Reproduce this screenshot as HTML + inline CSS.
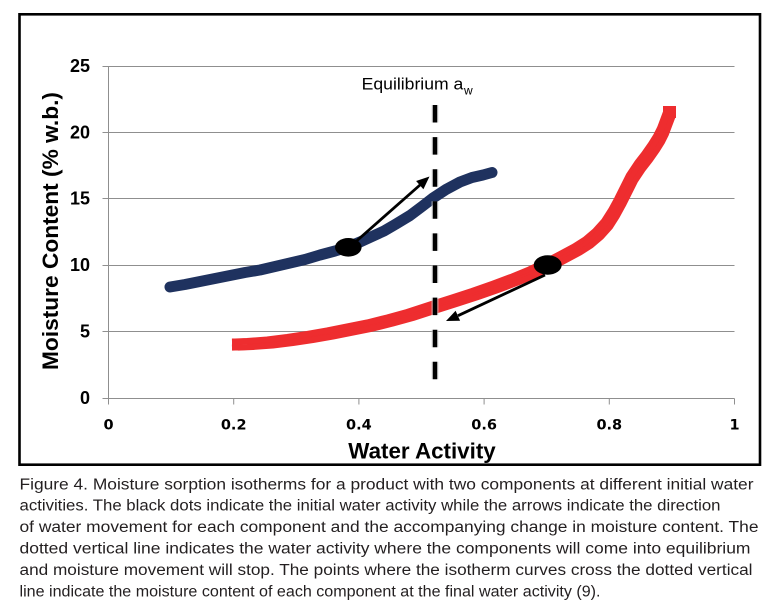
<!DOCTYPE html>
<html>
<head>
<meta charset="utf-8">
<style>
html,body{margin:0;padding:0;background:#fff;overflow:hidden;}
svg{display:block;}
</style>
</head>
<body>
<svg width="782" height="608" viewBox="0 0 782 608" xmlns="http://www.w3.org/2000/svg">
<rect width="782" height="608" fill="#fff"/>
<!-- outer frame -->
<rect x="19.5" y="14.3" width="740.5" height="450.4" fill="none" stroke="#000" stroke-width="2.6"/>

<!-- gridlines -->
<g stroke="#8f8f8f" stroke-width="1" fill="none">
  <line x1="102.5" y1="66.5" x2="734.5" y2="66.5"/>
  <line x1="102.5" y1="132.5" x2="734.5" y2="132.5"/>
  <line x1="102.5" y1="198.5" x2="734.5" y2="198.5"/>
  <line x1="102.5" y1="265.5" x2="734.5" y2="265.5"/>
  <line x1="102.5" y1="331.5" x2="734.5" y2="331.5"/>
  <line x1="102.5" y1="398.5" x2="734.5" y2="398.5"/>
  <line x1="108.5" y1="66.5" x2="108.5" y2="398.5"/>
  <line x1="108.5" y1="398.5" x2="108.5" y2="404.5"/>
  <line x1="233.7" y1="398.5" x2="233.7" y2="404.5"/>
  <line x1="358.9" y1="398.5" x2="358.9" y2="404.5"/>
  <line x1="484.1" y1="398.5" x2="484.1" y2="404.5"/>
  <line x1="609.3" y1="398.5" x2="609.3" y2="404.5"/>
  <line x1="734.5" y1="398.5" x2="734.5" y2="404.5"/>
</g>

<!-- y tick labels -->
<g font-family="'Liberation Sans', Arial, sans-serif" font-weight="bold" font-size="18" fill="#000" text-anchor="end">
  <text x="90" y="72">25</text>
  <text x="90" y="138.3">20</text>
  <text x="90" y="204.7">15</text>
  <text x="90" y="271.2">10</text>
  <text x="90" y="337.6">5</text>
  <text x="90" y="404">0</text>
</g>

<!-- x tick labels -->
<g font-family="'DejaVu Sans', Verdana, sans-serif" font-weight="bold" font-size="14.5" fill="#000" text-anchor="middle">
  <text x="108.5" y="429.5">0</text>
  <text x="233.7" y="429.5">0.2</text>
  <text x="358.9" y="429.5">0.4</text>
  <text x="484.1" y="429.5">0.6</text>
  <text x="609.3" y="429.5">0.8</text>
  <text x="734.5" y="429.5">1</text>
</g>

<!-- axis titles -->
<text x="422" y="458.3" font-family="'Liberation Sans', Arial, sans-serif" font-weight="bold" font-size="22.5" text-anchor="middle" textLength="147.4" lengthAdjust="spacingAndGlyphs">Water Activity</text>
<text transform="translate(58,231) rotate(-90)" x="0" y="0" font-family="'Liberation Sans', Arial, sans-serif" font-weight="bold" font-size="22" text-anchor="middle" textLength="278" lengthAdjust="spacingAndGlyphs">Moisture Content (% w.b.)</text>

<!-- blue series -->
<polyline fill="none" stroke="#1F325F" stroke-width="11" stroke-linejoin="round" stroke-linecap="round"
 points="170,287 185,284.5 200,281.5 215,278.5 230,275.5 245,272.5 260,270 275,266.5 290,263 305,259.5 320,255 335,251 348,247 360,242 372,236.5 384,231 396,224 410,215.5 422,206.5 433,198 446,189.5 460,182 472,177.5 483,175 492,172.5"/>

<!-- red series (square markers approximated) -->
<g fill="none" stroke="#EE2D2F" stroke-width="6" stroke-linejoin="round" stroke-linecap="square">
  <polyline transform="translate(-3,-3)" points="238,344.5 250,344 270,342.5 290,340 310,337 330,333.5 350,329.5 370,325.5 390,320.5 410,315 433,307.5 455,300.5 475,294 495,287 515,279.5 532,272.5 548,265 563,257 577,249.5 588,242.5 598,234 607,224 614,213 620,202 626,190 632,178 640,166 647,157 654,147 659,139 663,131 666,123 669,115"/>
  <polyline transform="translate(3,-3)" points="238,344.5 250,344 270,342.5 290,340 310,337 330,333.5 350,329.5 370,325.5 390,320.5 410,315 433,307.5 455,300.5 475,294 495,287 515,279.5 532,272.5 548,265 563,257 577,249.5 588,242.5 598,234 607,224 614,213 620,202 626,190 632,178 640,166 647,157 654,147 659,139 663,131 666,123 669,115"/>
  <polyline transform="translate(-3,3)" points="238,344.5 250,344 270,342.5 290,340 310,337 330,333.5 350,329.5 370,325.5 390,320.5 410,315 433,307.5 455,300.5 475,294 495,287 515,279.5 532,272.5 548,265 563,257 577,249.5 588,242.5 598,234 607,224 614,213 620,202 626,190 632,178 640,166 647,157 654,147 659,139 663,131 666,123 669,115"/>
  <polyline transform="translate(3,3)" points="238,344.5 250,344 270,342.5 290,340 310,337 330,333.5 350,329.5 370,325.5 390,320.5 410,315 433,307.5 455,300.5 475,294 495,287 515,279.5 532,272.5 548,265 563,257 577,249.5 588,242.5 598,234 607,224 614,213 620,202 626,190 632,178 640,166 647,157 654,147 659,139 663,131 666,123 669,115"/>
</g>
<rect x="663" y="106" width="13" height="12" fill="#EE2D2F"/>
<rect x="232" y="338.5" width="8" height="12" fill="#EE2D2F"/>

<!-- dashed equilibrium line -->
<line x1="435" y1="105" x2="435" y2="380" stroke="#d0d0d0" stroke-width="7" stroke-dasharray="17.5 14.6" opacity="0.6"/>
<line x1="435" y1="105" x2="435" y2="380" stroke="#000" stroke-width="4.5" stroke-dasharray="17.5 14.6"/>

<!-- equilibrium label -->
<text x="361.7" y="89.3" font-family="'Liberation Sans', Arial, sans-serif" font-size="16.5" fill="#000" textLength="101.6" lengthAdjust="spacingAndGlyphs">Equilibrium a</text>
<text x="464" y="94.5" font-family="'Liberation Sans', Arial, sans-serif" font-size="12" fill="#000">w</text>

<!-- arrows -->
<line x1="352" y1="245" x2="420" y2="185" stroke="#000" stroke-width="2.8"/>
<polygon points="429.5,176.5 423.4,189.2 416.1,181.0" fill="#000"/>
<line x1="545" y1="275" x2="458" y2="315.7" stroke="#000" stroke-width="2.8"/>
<polygon points="446,321 460.1,320.7 455.6,310.7" fill="#000"/>

<!-- black dots -->
<ellipse cx="348.3" cy="247.3" rx="13.3" ry="9.3" fill="#000"/>
<ellipse cx="547.7" cy="265" rx="14" ry="9.7" fill="#000"/>

<!-- caption -->
<g font-family="'Liberation Sans', Arial, sans-serif" font-size="15.5" fill="#231f20">
  <text x="19.5" y="489.3" textLength="734" lengthAdjust="spacingAndGlyphs">Figure 4. Moisture sorption isotherms for a product with two components at different initial water</text>
  <text x="19.5" y="510.7" textLength="701" lengthAdjust="spacingAndGlyphs">activities. The black dots indicate the initial water activity while the arrows indicate the direction</text>
  <text x="19.5" y="532.1" textLength="739" lengthAdjust="spacingAndGlyphs">of water movement for each component and the accompanying change in moisture content. The</text>
  <text x="19.5" y="553.5" textLength="731" lengthAdjust="spacingAndGlyphs">dotted vertical line indicates the water activity where the components will come into equilibrium</text>
  <text x="19.5" y="574.9" textLength="733" lengthAdjust="spacingAndGlyphs">and moisture movement will stop. The points where the isotherm curves cross the dotted vertical</text>
  <text x="19.5" y="596.3" textLength="581" lengthAdjust="spacingAndGlyphs">line indicate the moisture content of each component at the final water activity (9).</text>
</g>
</svg>
</body>
</html>
